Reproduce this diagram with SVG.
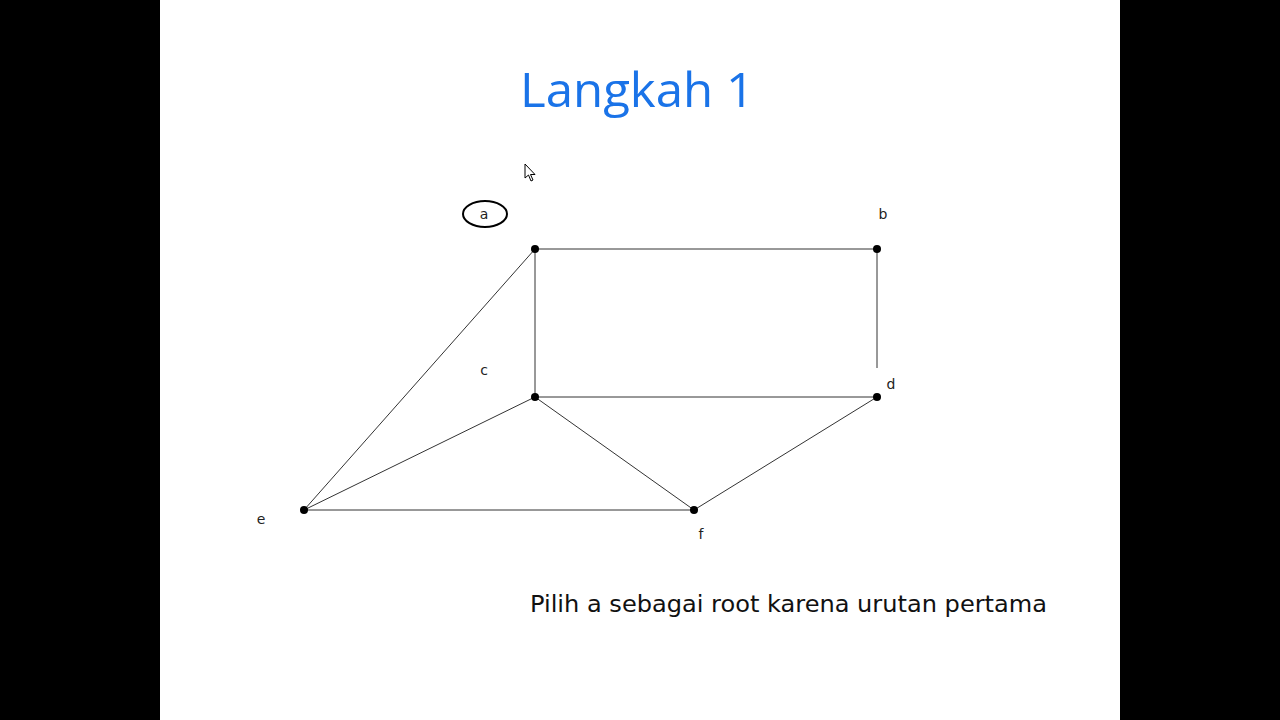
<svg xmlns="http://www.w3.org/2000/svg" width="1280" height="720" viewBox="0 0 1280 720">
<style>
.edge{stroke:#333;stroke-width:1;fill:none}
.dot{fill:#000}
.lbl{font-family:"DejaVu Sans",Verdana,sans-serif;font-size:14px;fill:#222;text-anchor:middle}
</style>
<rect x="0" y="0" width="1280" height="720" fill="#000"/>
<rect x="160" y="0" width="960" height="720" fill="#fff"/>
<text x="637" y="107" font-family="'Open Sans','Noto Sans',sans-serif" font-size="48" fill="#1a73e8" text-anchor="middle" textLength="234" lengthAdjust="spacingAndGlyphs">Langkah 1</text>
<g id="connectors">
<line class="edge" x1="535" y1="249" x2="877" y2="249"/>
<line class="edge" x1="535" y1="249" x2="535" y2="397"/>
<line class="edge" x1="535" y1="249" x2="304" y2="510"/>
<line class="edge" x1="877" y1="249" x2="877" y2="368"/>
<line class="edge" x1="535" y1="397" x2="877" y2="397"/>
<line class="edge" x1="535" y1="397" x2="304" y2="510"/>
<line class="edge" x1="535" y1="397" x2="694" y2="510"/>
<line class="edge" x1="877" y1="397" x2="694" y2="510"/>
<line class="edge" x1="304" y1="510" x2="694" y2="510"/>
</g>
<g id="node-a"><circle class="dot" cx="535" cy="249" r="4"/><ellipse cx="485" cy="214" rx="22" ry="13" fill="none" stroke="#000" stroke-width="2"/><text class="lbl" x="484" y="219">a</text></g>
<g id="node-b"><circle class="dot" cx="877" cy="249" r="4"/><text class="lbl" x="883" y="219">b</text></g>
<g id="node-c"><circle class="dot" cx="535" cy="397" r="4"/><text class="lbl" x="484" y="375">c</text></g>
<g id="node-d"><circle class="dot" cx="877" cy="397" r="4"/><text class="lbl" x="891" y="389">d</text></g>
<g id="node-e"><circle class="dot" cx="304" cy="510" r="4"/><text class="lbl" x="261" y="524">e</text></g>
<g id="node-f"><circle class="dot" cx="694" cy="510" r="4"/><text class="lbl" x="701" y="539">f</text></g>
<text x="530" y="612" font-family="'DejaVu Sans',Verdana,sans-serif" font-size="23" fill="#111" textLength="517" lengthAdjust="spacingAndGlyphs">Pilih a sebagai root karena urutan pertama</text>
<path d="M525,164 L525,178 L528.5,175 L531,181 L533,180 L530.5,174.5 L535,174.5 Z" fill="#fff" stroke="#000" stroke-width="1"/>
</svg>
